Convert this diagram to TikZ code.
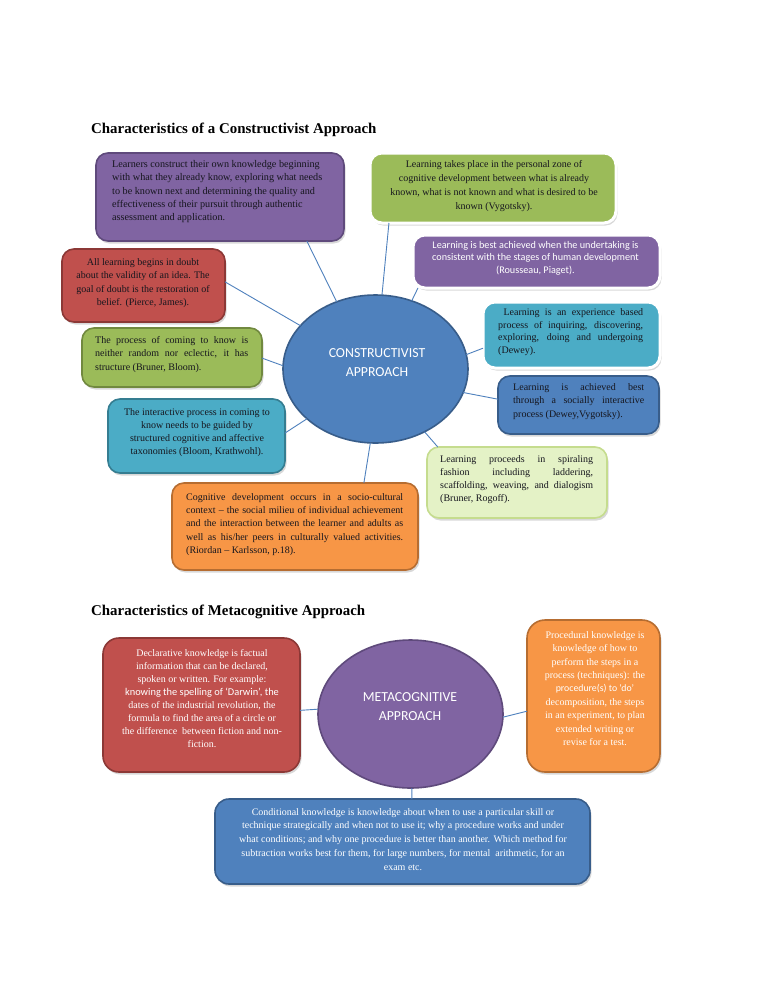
\documentclass[tikz,border=0pt]{standalone}
\usepackage{fontspec}
\setmainfont{Liberation Serif}
\newfontfamily\calib{Carlito}
\usetikzlibrary{shadows,calc,shapes.geometric}
\definecolor{cpurple}{HTML}{8064A2}
\definecolor{cpurpled}{HTML}{5F4A7C}
\definecolor{cgreen}{HTML}{9BBB59}
\definecolor{cgreend}{HTML}{71893F}
\definecolor{cred}{HTML}{C0504D}
\definecolor{credd}{HTML}{8C3836}
\definecolor{cteal}{HTML}{4BACC6}
\definecolor{cteald}{HTML}{357D91}
\definecolor{cblue}{HTML}{4F81BD}
\definecolor{cblued}{HTML}{385D8A}
\definecolor{corange}{HTML}{F79646}
\definecolor{corangeD}{HTML}{B66D31}
\definecolor{clgreen}{HTML}{E4F2C6}
\definecolor{clgreend}{HTML}{C5DC8E}
\definecolor{ctext}{HTML}{16161E}
\newcommand\fs{\rule{0pt}{8pt}}
\newcommand\jl[2]{\makebox[#1pt][s]{#2}}
\begin{document}
\begin{tikzpicture}[x=1pt,y=-1pt,
  box/.style={rounded corners=12pt, line width=1.6pt, inner sep=0pt, outer sep=0pt,
    drop shadow={opacity=0.3, shadow xshift=1.5pt, shadow yshift=-2.5pt}},
  wbox/.style={box, draw=white, line width=3pt},
  ell/.style={ellipse, line width=1.6pt, inner sep=0pt, outer sep=0pt,
    minimum width=185pt, minimum height=148pt},
  conn/.style={draw=cblue, line width=0.9pt},
  title/.style={inner sep=0pt, font=\bfseries\fontsize{14.9}{18}\selectfont},
  txt/.style={inner sep=0pt, text=ctext},
  wtxt/.style={inner sep=0pt, text=white},
  etxt/.style={inner sep=0pt, text=white, align=center, font=\calib\fontsize{13.8}{19.5}\selectfont}
]
\useasboundingbox (0,0) rectangle (768,994);
\fill[white] (0,0) rectangle (768,994);

% titles
\node[title, anchor=base west] (h1) at (91,133) {Characteristics of a Constructivist Approach};
\node[title, anchor=base west] (h2) at (91,615) {Characteristics of Metacognitive Approach};

% ===== Constructivist =====
\node[box, fill=cpurple, draw=cpurpled, minimum width=248pt, minimum height=88pt] (b1) at (220,197) {};
\node[wbox, fill=cgreen, minimum width=246pt, minimum height=70pt] (b2) at (493,188) {};
\node[wbox, fill=cpurple, minimum width=247pt, minimum height=53pt] (b3) at (536.5,261.5) {};
\node[box, fill=cred, draw=credd, minimum width=163pt, minimum height=73pt] (b4) at (143.5,285.5) {};
\node[box, fill=cgreen, draw=cgreend, minimum width=180pt, minimum height=59pt] (b5) at (172,357.5) {};
\node[wbox, fill=cteal, minimum width=177pt, minimum height=66pt] (b6) at (571.5,335) {};
\node[box, fill=cblue, draw=cblued, minimum width=161pt, minimum height=58pt] (b7) at (578.5,405) {};
\node[box, fill=cteal, draw=cteald, minimum width=177pt, minimum height=74pt] (b8) at (196.5,436) {};
\node[box, fill=clgreen, draw=clgreend, minimum width=180pt, minimum height=71pt] (b9) at (517,482.5) {};
\node[box, fill=corange, draw=corangeD, minimum width=246pt, minimum height=87pt] (b10) at (295,526.5) {};

\node[ell, fill=cblue, draw=cblued] (c) at (375.5,369) {};

\draw[conn] (c.120.8) -- ($(b1.south west)!0.85!(b1.south east)$);
\draw[conn] (c.85.7) -- ($(b2.south west)!0.077!(b2.south east)$);
\draw[conn] (c.62.5) -- ($(b3.south west)!0.02!(b3.south east)$);
\draw[conn] (c.150.1) -- ($(b4.north east)!0.45!(b4.south east)$);
\draw[conn] (c.178) -- ($(b5.north east)!0.51!(b5.south east)$);
\draw[conn] (c.9.8) -- ($(b6.north west)!0.70!(b6.south west)$);
\draw[conn] (c.-15.5) -- ($(b7.north west)!0.40!(b7.south west)$);
\draw[conn] (c.216.9) -- ($(b8.north east)!0.46!(b8.south east)$);
\draw[conn] (c.266) -- ($(b10.north west)!0.78!(b10.north east)$);
\draw[conn] (c.308.8) -- ($(b9.north west)!0.06!(b9.north east)$);

\node[etxt, anchor=north] (ct) at (377,347) {\rule{0pt}{10pt}CONSTRUCTIVIST\\APPROACH};

\node[txt, anchor=north west, align=left, font=\fontsize{10.2}{13.4}\selectfont] (t1) at (112,159)
 {\fs Learners construct their own knowledge beginning\\
  with what they already know, exploring what needs\\
  to be known next and determining the quality and\\
  effectiveness of their pursuit through authentic\\
  assessment and application.};
\node[txt, anchor=north, align=center, font=\fontsize{10}{14}\selectfont] (t2) at (494,159)
 {\fs Learning takes place in the personal zone of\\
  cognitive development between what is already\\
  known, what is not known and what is desired to be\\
  known (Vygotsky).};
\node[wtxt, anchor=north, align=center, font=\calib\fontsize{10.2}{12.6}\selectfont] (t3) at (535.5,240)
 {\fs Learning is best achieved when the undertaking is\\
  consistent with the stages of human development\\
  (Rousseau, Piaget).};
\node[txt, anchor=north, align=center, font=\fontsize{10}{13.4}\selectfont] (t4) at (143,257)
 {\fs All learning begins in doubt\\
  about the validity of an idea. The\\
  goal of doubt is the restoration of\\
  belief. (Pierce, James).};
\node[txt, anchor=north west, align=left, font=\fontsize{10}{13.5}\selectfont] (t5) at (95,335)
 {\fs\jl{153}{The process of coming to know is}\\
  \jl{153}{neither random nor eclectic, it has}\\
  structure (Bruner, Bloom).};
\node[txt, anchor=north west, align=left, font=\fontsize{10}{12.8}\selectfont] (t6) at (498,307)
 {\fs\jl{145}{\ Learning is an experience based}\\
  \jl{145}{process of inquiring, discovering,}\\
  \jl{145}{exploring, doing and undergoing}\\
  (Dewey).};
\node[txt, anchor=north west, align=left, font=\fontsize{10}{13.5}\selectfont] (t7) at (513,382)
 {\fs\jl{131}{Learning is achieved best}\\
  \jl{131}{through a socially interactive}\\
  process (Dewey,Vygotsky).};
\node[txt, anchor=north, align=center, font=\fontsize{10}{13}\selectfont] (t8) at (197,407)
 {\fs The interactive process in coming to\\
  know needs to be guided by\\
  structured cognitive and affective\\
  taxonomies (Bloom, Krathwohl).};
\node[txt, anchor=north west, align=left, font=\fontsize{10}{13}\selectfont] (t9) at (440,454)
 {\fs\jl{153}{Learning proceeds in spiraling}\\
  \jl{153}{fashion including laddering,}\\
  \jl{153}{scaffolding, weaving, and dialogism}\\
  (Bruner, Rogoff).};
\node[txt, anchor=north west, align=left, font=\fontsize{10}{13.3}\selectfont] (t10) at (186,492)
 {\fs\jl{217}{Cognitive development occurs in a socio-cultural}\\
  \jl{217}{context -- the social milieu of individual achievement}\\
  \jl{217}{and the interaction between the learner and adults as}\\
  \jl{217}{well as his/her peers in culturally valued activities.}\\
  (Riordan -- Karlsson, p.18).};

% ===== Metacognitive =====
\node[box, fill=cred, draw=credd, rounded corners=16pt, minimum width=197pt, minimum height=134pt] (m1) at (201.5,705) {};
\node[box, fill=corange, draw=corangeD, rounded corners=18pt, minimum width=133pt, minimum height=152pt] (m2) at (593.5,696) {};
\node[box, fill=cblue, draw=cblued, rounded corners=14pt, minimum width=375pt, minimum height=85pt] (m3) at (402.5,841.5) {};
\node[ell, fill=cpurple, draw=cpurpled] (me) at (410.5,714) {};

\draw[conn] (me.177) -- ($(m1.north east)!0.54!(m1.south east)$);
\draw[conn] (me.-2) -- ($(m2.north west)!0.60!(m2.south west)$);
\draw[conn] (me.271) -- ($(m3.north west)!0.525!(m3.north east)$);

\node[etxt, anchor=north] (mt) at (410,691) {\rule{0pt}{10pt}METACOGNITIVE\\APPROACH};

\node[wtxt, anchor=north, align=center, font=\fontsize{10}{13.1}\selectfont] (m1t) at (202,648)
 {\fs Declarative knowledge is factual\\
  information that can be declared,\\
  spoken or written. For example:\\
  {\calib\fontsize{10.4}{13.1}\selectfont knowing the spelling of ‘Darwin’, the}\\
  dates of the industrial revolution, the\\
  formula to find the area of a circle or\\
  the difference\ \ between fiction and non-\\
  fiction.};
\node[wtxt, anchor=north, align=center, font=\fontsize{10}{13.4}\selectfont] (m2t) at (595,630)
 {\fs Procedural knowledge is\\
  knowledge of how to\\
  perform the steps in a\\
  process (techniques): the\\
  {\calib\fontsize{9.8}{13.4}\selectfont procedure(s) to ‘do’}\\
  decomposition, the steps\\
  in an experiment, to plan\\
  extended writing or\\
  revise for a test.};
\node[wtxt, anchor=north, align=center, font=\fontsize{10}{13.7}\selectfont] (m3t) at (403,807)
 {\fs Conditional knowledge is knowledge about when to use a particular skill or\\
  technique strategically and when not to use it; why a procedure works and under\\
  what conditions; and why one procedure is better than another. Which method for\\
  subtraction works best for them, for large numbers, for mental\ \ arithmetic, for an\\
  exam etc.};
\end{tikzpicture}
\end{document}
